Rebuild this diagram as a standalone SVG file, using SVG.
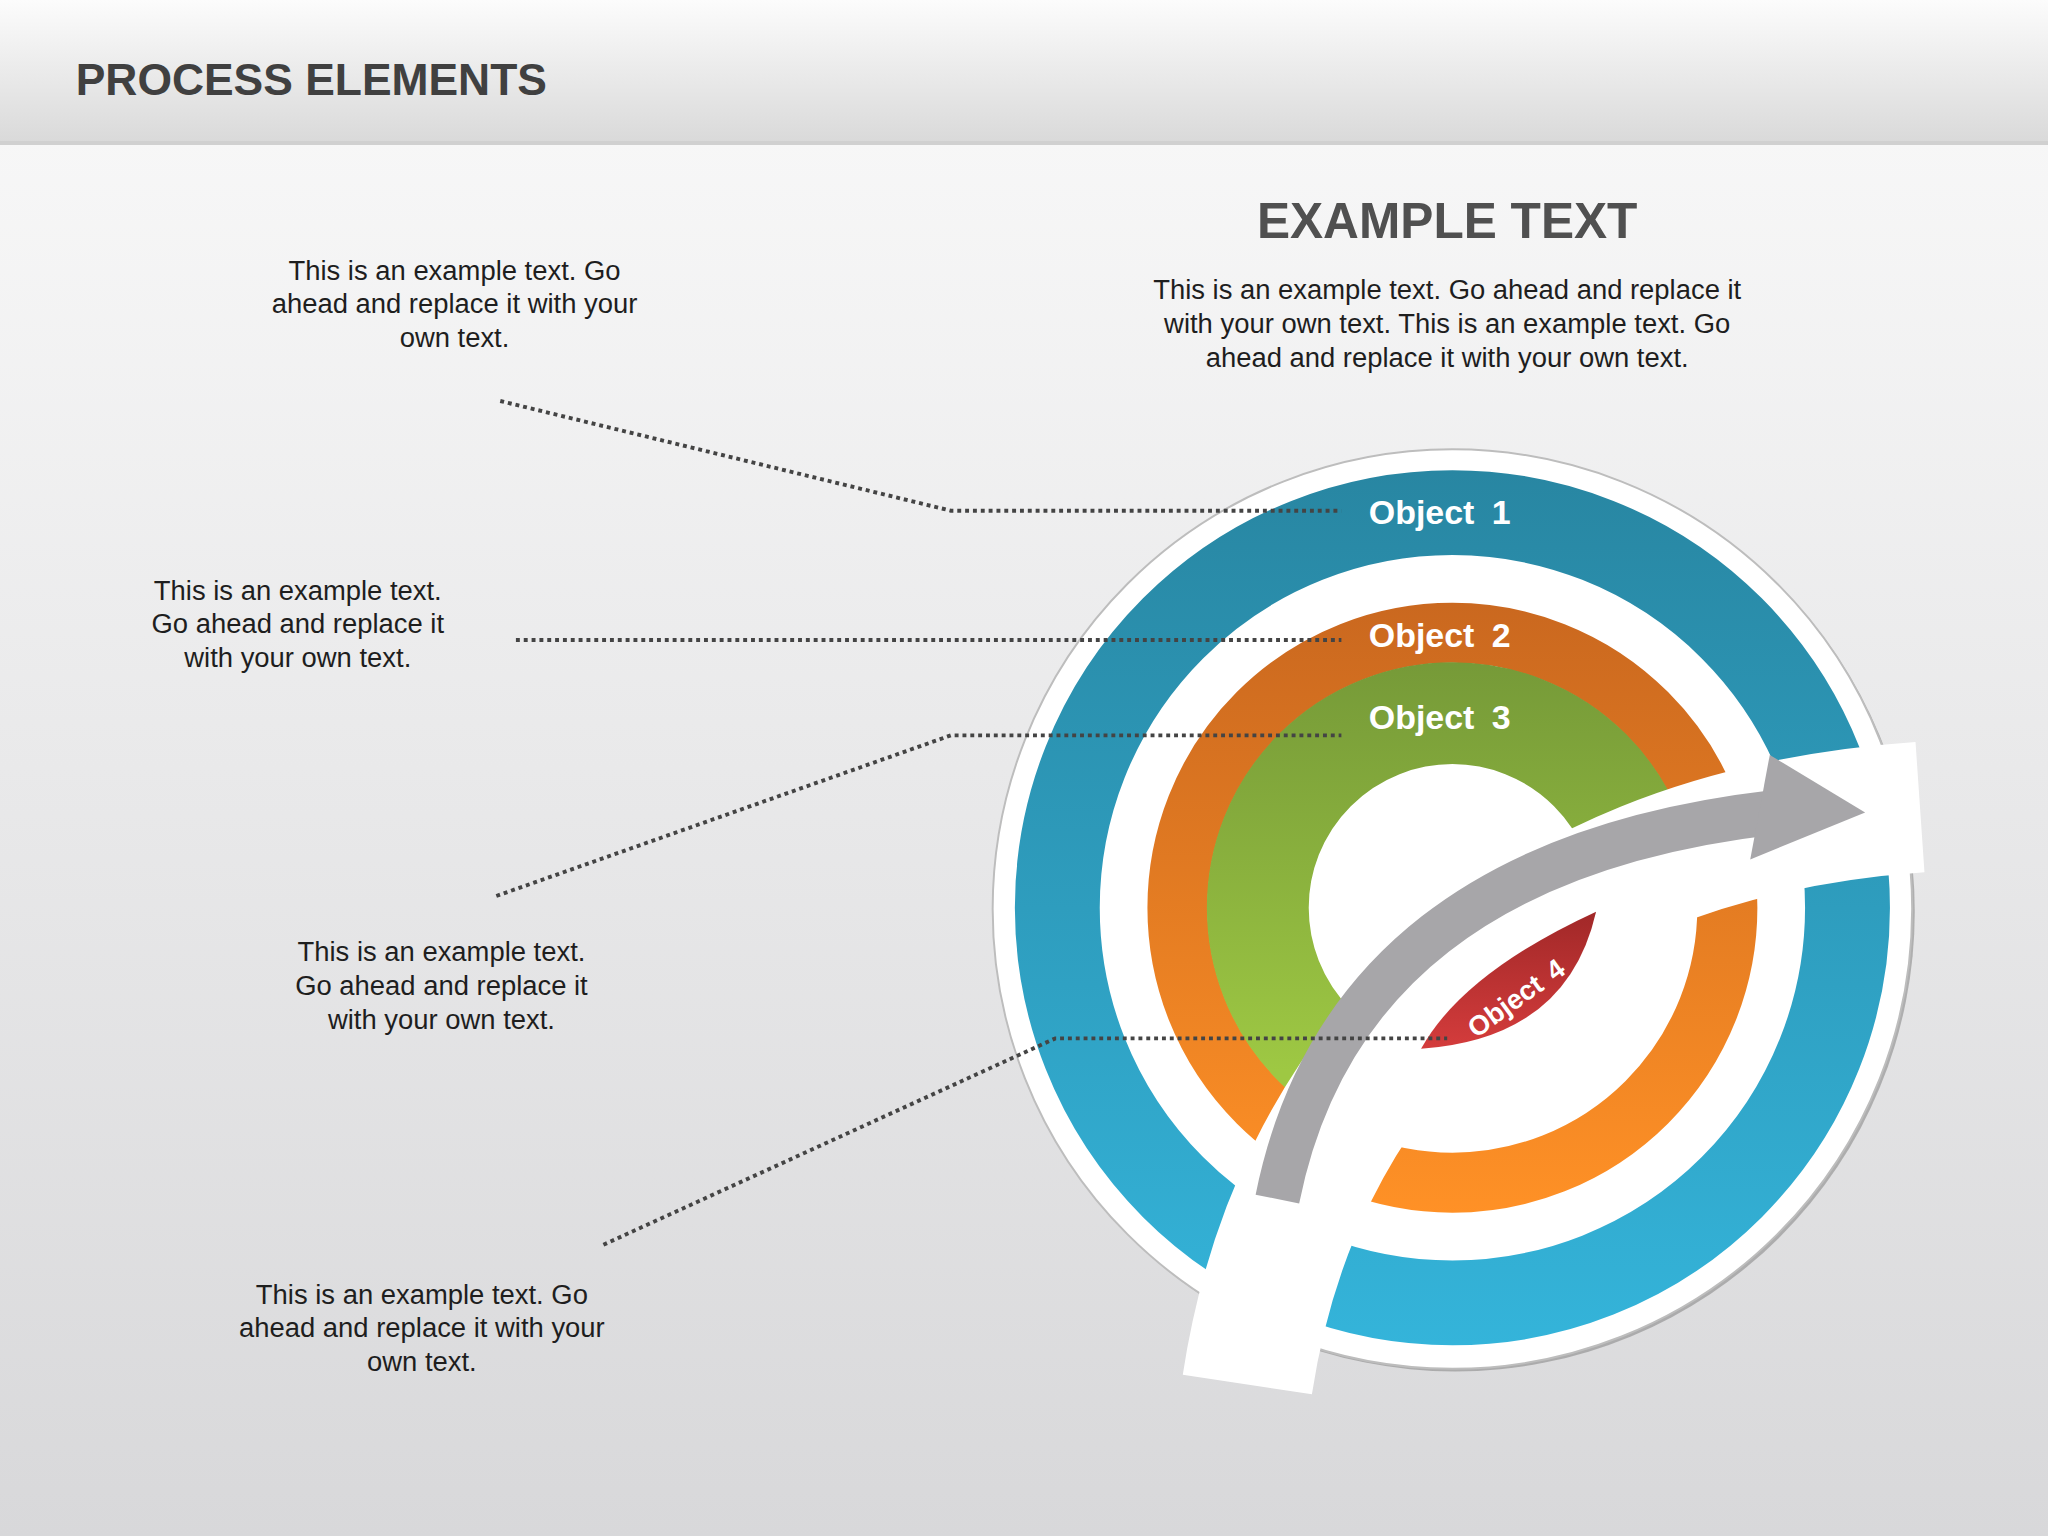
<svg xmlns="http://www.w3.org/2000/svg" width="2048" height="1536" viewBox="0 0 2048 1536">
<defs>
<linearGradient id="bg" x1="0" y1="0" x2="0" y2="1"><stop offset="0" stop-color="#FAFAFA"/><stop offset="1" stop-color="#D8D8DA"/></linearGradient>
<linearGradient id="hd" x1="0" y1="0" x2="0" y2="1"><stop offset="0" stop-color="#FCFCFC"/><stop offset="1" stop-color="#D9D9D9"/></linearGradient>
<linearGradient id="blue" gradientUnits="userSpaceOnUse" x1="0" y1="360" x2="0" y2="1030"><stop offset="0" stop-color="#2886A2"/><stop offset="1" stop-color="#34B4DA"/></linearGradient>
<linearGradient id="orange" gradientUnits="userSpaceOnUse" x1="0" y1="462" x2="0" y2="930"><stop offset="0" stop-color="#CA681F"/><stop offset="1" stop-color="#FF9126"/></linearGradient>
<linearGradient id="green" gradientUnits="userSpaceOnUse" x1="0" y1="508" x2="0" y2="820"><stop offset="0" stop-color="#769A38"/><stop offset="1" stop-color="#9EC843"/></linearGradient>
<linearGradient id="red" x1="0" y1="0" x2="0" y2="1"><stop offset="0" stop-color="#A12828"/><stop offset="1" stop-color="#D43C3C"/></linearGradient>
<clipPath id="gclip"><path d="M955,1060 C990,830 1150,640 1470,618 L1470,300 L700,300 L700,1060 Z"/></clipPath>
</defs>
<style>
.t{font-family:"Liberation Sans",Arial,sans-serif;fill:#1E1E1E;font-size:21px;text-anchor:middle}
.ob{font-family:"Liberation Sans",Arial,sans-serif;fill:#FFFFFF;font-size:26px;font-weight:bold;word-spacing:6px}
.dot{fill:none;stroke:#444;stroke-width:3;stroke-dasharray:3 3}
</style>
<rect width="2048" height="1536" fill="url(#bg)"/>
<g transform="scale(1.30612)">
<rect x="0" y="0" width="1568" height="110" fill="url(#hd)"/>
<rect x="0" y="108" width="1568" height="3" fill="#D0D0D0"/>
<text x="58" y="73" font-family="Liberation Sans,Arial,sans-serif" font-weight="bold" font-size="34" fill="#404040">PROCESS ELEMENTS</text>
<g id="header-text">
<text x="1108" y="182" class="t" style="font-size:38px;font-weight:bold;fill:#505050">EXAMPLE TEXT</text>
<text class="t" x="1108" y="229">This is an example text. Go ahead and replace it</text>
<text class="t" x="1108" y="255">with your own text. This is an example text. Go</text>
<text class="t" x="1108" y="281">ahead and replace it with your own text.</text>
</g>
<g id="text1"><text class="t" x="348" y="214">This is an example text. Go</text><text class="t" x="348" y="240">ahead and replace it with your</text><text class="t" x="348" y="266">own text.</text></g>
<g id="text2"><text class="t" x="228" y="459">This is an example text.</text><text class="t" x="228" y="485">Go ahead and replace it</text><text class="t" x="228" y="511">with your own text.</text></g>
<g id="text3"><text class="t" x="338" y="736">This is an example text.</text><text class="t" x="338" y="762">Go ahead and replace it</text><text class="t" x="338" y="788">with your own text.</text></g>
<g id="text4"><text class="t" x="323" y="998">This is an example text. Go</text><text class="t" x="323" y="1024">ahead and replace it with your</text><text class="t" x="323" y="1050">own text.</text></g>
<g id="wheel">
<circle cx="1114" cy="698" r="352" fill="#8A8A8A" opacity="0.6"/>
<circle cx="1112" cy="696" r="352" fill="#FFFFFF" stroke="#BDBDBD" stroke-width="1.5"/>
<circle id="object1" cx="1112" cy="695" r="302.5" fill="none" stroke="url(#blue)" stroke-width="65"/>
<circle id="object2" cx="1112" cy="695" r="210.5" fill="none" stroke="url(#orange)" stroke-width="46"/>
<circle id="object3" cx="1112" cy="695" r="149" fill="none" stroke="url(#green)" stroke-width="78" clip-path="url(#gclip)"/>
<path d="M955,1060 C990,830 1150,640 1470,618" fill="none" stroke="#FFFFFF" stroke-width="100"/>
<g id="arrow" fill="#A7A6A9">
<path d="M978,918 Q1030,660 1358,622" fill="none" stroke="#A7A6A9" stroke-width="34"/>
<polygon points="1355,578 1428,622 1340,658"/>
</g>
<g id="object4">
<path d="M1088,803 Q1120,745 1222,698 Q1200,795 1088,803 Z" fill="url(#red)"/>
<text class="ob" x="0" y="0" transform="translate(1165,770) rotate(-36)" text-anchor="middle" style="font-size:21px;word-spacing:3px">Object 4</text>
</g>
</g>
<g id="connectors">
<polyline class="dot" points="383,307 728,391 1027,391"/>
<polyline class="dot" points="395,490 1027,490"/>
<polyline class="dot" points="380,686 728,563 1027,563"/>
<polyline class="dot" points="462,953 808,795 1108,795"/>
</g>
<g id="labels">
<text class="ob" x="1048" y="401">Object 1</text>
<text class="ob" x="1048" y="495">Object 2</text>
<text class="ob" x="1048" y="558">Object 3</text>
</g>
</g>
</svg>
